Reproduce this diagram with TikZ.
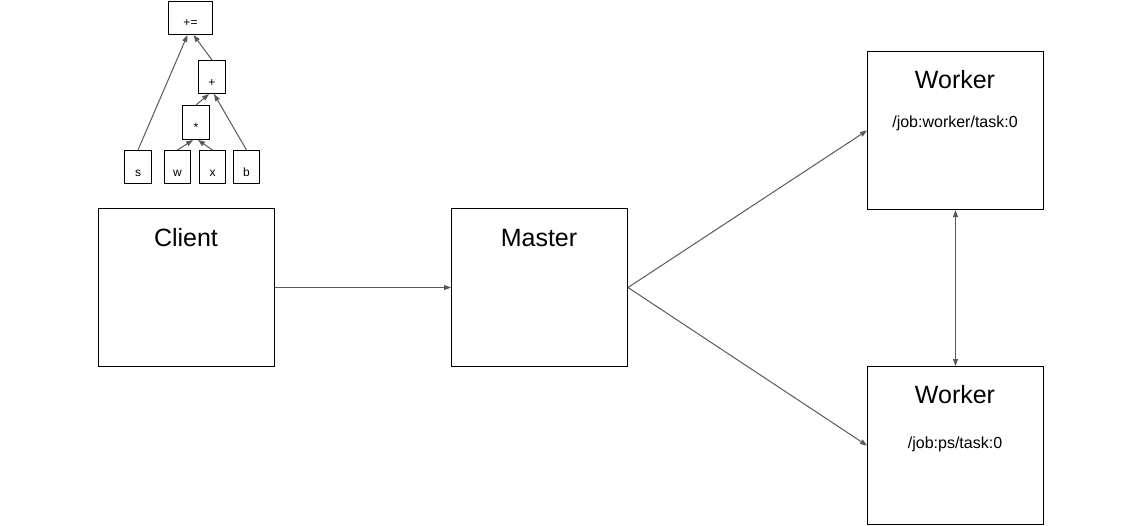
\documentclass[tikz,border=0pt]{standalone}
\usepackage{fontspec}
\setmainfont{Liberation Sans}
\usetikzlibrary{arrows.meta,positioning}
\definecolor{edgegray}{HTML}{595959}

\tikzset{
  box/.style={draw=black, line width=1pt, minimum width=176pt, minimum height=158pt, inner sep=0pt, anchor=north west},
  op/.style={draw=black, line width=1pt, minimum width=27pt, minimum height=33pt, inner sep=0pt, anchor=north west,
    text height=18pt, text depth=0pt, font=\fontsize{12}{14}\selectfont},
  title/.style={font=\fontsize{25}{30}\selectfont, inner sep=0pt},
  jobtxt/.style={font=\fontsize{16}{19}\selectfont, inner sep=0pt},
  link/.style={draw=edgegray, line width=1pt, -{Triangle[length=7pt,width=5pt]}},
}

\begin{document}
\begin{tikzpicture}[x=1pt,y=-1pt]

\useasboundingbox (0,0) rectangle (1142,525);

%the little graph the client builds
\node[op, minimum width=44pt, text height=16pt] (pe) at (168,1) {+=};
\node[op] (plus) at (198,60) {+};
\node[op, minimum height=34pt] (mul) at (182,105) {*};
\node[op] (s) at (124,150) {s};
\node[op, minimum width=26pt] (w) at (164,150) {w};
\node[op, minimum width=26pt] (x) at (199,150) {x};
\node[op, minimum width=26pt] (b) at (233,150) {b};

\draw[link] (s.north) -- ([xshift=-3pt]pe.south);
\draw[link] (plus.north) -- ([xshift=3pt]pe.south);
\draw[link] (mul.north) -- ([xshift=-3pt]plus.south);
\draw[link] (b.north) -- ([xshift=2pt]plus.south);
\draw[link] (w.north) -- ([xshift=-3pt]mul.south);
\draw[link] (x.north) -- ([xshift=2pt]mul.south);

%client and master
\node[box] (client) at (98,208) {};
\node[title] (clienttxt) at (186,238) {Client};
\node[box] (master) at (451,208) {};
\node[title] (mastertxt) at (539,238) {Master};

%the two workers
\node[box] (worker) at (867,51) {};
\node[title] (workertxt) at (955,80) {Worker};
\node[jobtxt] (workerjob) at (955,123) {/job:worker/task:0};
\node[box] (ps) at (867,366) {};
\node[title] (pstxt) at (955,395) {Worker};
\node[jobtxt] (psjob) at (955,444) {/job:ps/task:0};

\draw[link] (client.east) -- (master.west);
\draw[link] (master.east) -- (worker.west);
\draw[link] (master.east) -- (ps.west);
\draw[link, {Triangle[length=7pt,width=5pt]}-{Triangle[length=7pt,width=5pt]}] (worker.south) -- (ps.north);

\end{tikzpicture}
\end{document}
